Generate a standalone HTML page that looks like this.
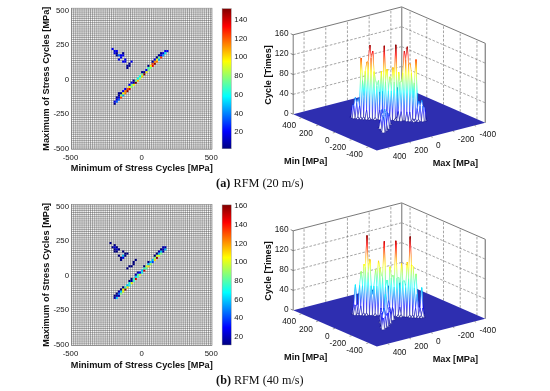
<!DOCTYPE html>
<html><head><meta charset="utf-8"><style>
html,body{margin:0;padding:0;background:#fff;}
svg{display:block;}
.tk{font-family:"Liberation Sans", Arial, sans-serif;font-size:7.8px;fill:#151515;}
.tk3{font-family:"Liberation Sans", Arial, sans-serif;font-size:8.3px;fill:#151515;}
.lb{font-family:"Liberation Sans", Arial, sans-serif;font-size:9.2px;font-weight:bold;fill:#111;}
.cap{font-family:"Liberation Serif","Times New Roman",serif;font-size:12.5px;fill:#111;}
</style></head><body>
<svg width="550" height="391" viewBox="0 0 550 391">
<defs>
<linearGradient id="jetv" x1="0" y1="1" x2="0" y2="0"><stop offset="0.0000" stop-color="#000080"/><stop offset="0.1250" stop-color="#0000ff"/><stop offset="0.3750" stop-color="#00ffff"/><stop offset="0.6250" stop-color="#ffff00"/><stop offset="0.8750" stop-color="#ff0000"/><stop offset="1.0000" stop-color="#800000"/></linearGradient>
</defs>
<rect width="550" height="391" fill="#fff"/>
<rect x="71.5" y="8.2" width="140.50" height="140.90" fill="#fff"/>
<path d="M71.50 8.20V149.10M73.61 8.20V149.10M75.72 8.20V149.10M77.82 8.20V149.10M79.93 8.20V149.10M82.04 8.20V149.10M84.15 8.20V149.10M86.26 8.20V149.10M88.36 8.20V149.10M90.47 8.20V149.10M92.58 8.20V149.10M94.69 8.20V149.10M96.80 8.20V149.10M98.90 8.20V149.10M101.01 8.20V149.10M103.12 8.20V149.10M105.23 8.20V149.10M107.34 8.20V149.10M109.44 8.20V149.10M111.55 8.20V149.10M113.66 8.20V149.10M115.77 8.20V149.10M117.88 8.20V149.10M119.98 8.20V149.10M122.09 8.20V149.10M124.20 8.20V149.10M126.31 8.20V149.10M128.42 8.20V149.10M130.52 8.20V149.10M132.63 8.20V149.10M134.74 8.20V149.10M136.85 8.20V149.10M138.96 8.20V149.10M141.06 8.20V149.10M143.17 8.20V149.10M145.28 8.20V149.10M147.39 8.20V149.10M149.50 8.20V149.10M151.60 8.20V149.10M153.71 8.20V149.10M155.82 8.20V149.10M157.93 8.20V149.10M160.04 8.20V149.10M162.14 8.20V149.10M164.25 8.20V149.10M166.36 8.20V149.10M168.47 8.20V149.10M170.58 8.20V149.10M172.68 8.20V149.10M174.79 8.20V149.10M176.90 8.20V149.10M179.01 8.20V149.10M181.12 8.20V149.10M183.22 8.20V149.10M185.33 8.20V149.10M187.44 8.20V149.10M189.55 8.20V149.10M191.66 8.20V149.10M193.76 8.20V149.10M195.87 8.20V149.10M197.98 8.20V149.10M200.09 8.20V149.10M202.20 8.20V149.10M204.30 8.20V149.10M206.41 8.20V149.10M208.52 8.20V149.10M210.63 8.20V149.10M71.50 149.10H212.00M71.50 146.99H212.00M71.50 144.88H212.00M71.50 142.78H212.00M71.50 140.67H212.00M71.50 138.56H212.00M71.50 136.45H212.00M71.50 134.34H212.00M71.50 132.24H212.00M71.50 130.13H212.00M71.50 128.02H212.00M71.50 125.91H212.00M71.50 123.80H212.00M71.50 121.70H212.00M71.50 119.59H212.00M71.50 117.48H212.00M71.50 115.37H212.00M71.50 113.26H212.00M71.50 111.16H212.00M71.50 109.05H212.00M71.50 106.94H212.00M71.50 104.83H212.00M71.50 102.72H212.00M71.50 100.62H212.00M71.50 98.51H212.00M71.50 96.40H212.00M71.50 94.29H212.00M71.50 92.18H212.00M71.50 90.08H212.00M71.50 87.97H212.00M71.50 85.86H212.00M71.50 83.75H212.00M71.50 81.64H212.00M71.50 79.54H212.00M71.50 77.43H212.00M71.50 75.32H212.00M71.50 73.21H212.00M71.50 71.10H212.00M71.50 69.00H212.00M71.50 66.89H212.00M71.50 64.78H212.00M71.50 62.67H212.00M71.50 60.56H212.00M71.50 58.46H212.00M71.50 56.35H212.00M71.50 54.24H212.00M71.50 52.13H212.00M71.50 50.02H212.00M71.50 47.92H212.00M71.50 45.81H212.00M71.50 43.70H212.00M71.50 41.59H212.00M71.50 39.48H212.00M71.50 37.38H212.00M71.50 35.27H212.00M71.50 33.16H212.00M71.50 31.05H212.00M71.50 28.94H212.00M71.50 26.84H212.00M71.50 24.73H212.00M71.50 22.62H212.00M71.50 20.51H212.00M71.50 18.40H212.00M71.50 16.30H212.00M71.50 14.19H212.00M71.50 12.08H212.00M71.50 9.97H212.00" stroke="#404040" stroke-width="0.42" fill="none"/>
<rect x="113.66" y="102.72" width="2.11" height="2.11" fill="#000091"/>
<rect x="115.77" y="100.62" width="2.11" height="2.11" fill="#0065ff"/>
<rect x="117.88" y="98.51" width="2.11" height="2.11" fill="#0065ff"/>
<rect x="119.98" y="96.40" width="2.11" height="2.11" fill="#ff4600"/>
<rect x="122.09" y="94.29" width="2.11" height="2.11" fill="#00a9ff"/>
<rect x="124.20" y="92.18" width="2.11" height="2.11" fill="#ff8400"/>
<rect x="126.31" y="90.08" width="2.11" height="2.11" fill="#9b0000"/>
<rect x="128.42" y="87.97" width="2.11" height="2.11" fill="#d80000"/>
<rect x="130.52" y="85.86" width="2.11" height="2.11" fill="#7eff81"/>
<rect x="132.63" y="83.75" width="2.11" height="2.11" fill="#ffff00"/>
<rect x="134.74" y="81.64" width="2.11" height="2.11" fill="#860000"/>
<rect x="136.85" y="79.54" width="2.11" height="2.11" fill="#ffc100"/>
<rect x="138.96" y="77.43" width="2.11" height="2.11" fill="#bbff44"/>
<rect x="141.06" y="75.32" width="2.11" height="2.11" fill="#ffdc00"/>
<rect x="143.17" y="73.21" width="2.11" height="2.11" fill="#9b0000"/>
<rect x="145.28" y="71.10" width="2.11" height="2.11" fill="#ffff00"/>
<rect x="147.39" y="69.00" width="2.11" height="2.11" fill="#7eff81"/>
<rect x="149.50" y="66.89" width="2.11" height="2.11" fill="#7eff81"/>
<rect x="151.60" y="64.78" width="2.11" height="2.11" fill="#ed0000"/>
<rect x="153.71" y="62.67" width="2.11" height="2.11" fill="#9b0000"/>
<rect x="155.82" y="60.56" width="2.11" height="2.11" fill="#ff8400"/>
<rect x="157.93" y="58.46" width="2.11" height="2.11" fill="#00a9ff"/>
<rect x="160.04" y="56.35" width="2.11" height="2.11" fill="#ff3200"/>
<rect x="162.14" y="54.24" width="2.11" height="2.11" fill="#00a9ff"/>
<rect x="164.25" y="52.13" width="2.11" height="2.11" fill="#03fffc"/>
<rect x="166.36" y="50.02" width="2.11" height="2.11" fill="#0000f0"/>
<rect x="113.66" y="100.62" width="2.11" height="2.11" fill="#0000f0"/>
<rect x="115.77" y="98.51" width="2.11" height="2.11" fill="#0000f0"/>
<rect x="117.88" y="96.40" width="2.11" height="2.11" fill="#0000f0"/>
<rect x="119.98" y="94.29" width="2.11" height="2.11" fill="#7eff81"/>
<rect x="122.09" y="92.18" width="2.11" height="2.11" fill="#ffff00"/>
<rect x="124.20" y="90.08" width="2.11" height="2.11" fill="#ff8400"/>
<rect x="126.31" y="87.97" width="2.11" height="2.11" fill="#ff4600"/>
<rect x="128.42" y="85.86" width="2.11" height="2.11" fill="#ffff00"/>
<rect x="130.52" y="83.75" width="2.11" height="2.11" fill="#7eff81"/>
<rect x="132.63" y="81.64" width="2.11" height="2.11" fill="#000091"/>
<rect x="134.74" y="79.54" width="2.11" height="2.11" fill="#7eff81"/>
<rect x="136.85" y="77.43" width="2.11" height="2.11" fill="#03fffc"/>
<rect x="138.96" y="75.32" width="2.11" height="2.11" fill="#03fffc"/>
<rect x="141.06" y="73.21" width="2.11" height="2.11" fill="#7eff81"/>
<rect x="143.17" y="71.10" width="2.11" height="2.11" fill="#000091"/>
<rect x="145.28" y="69.00" width="2.11" height="2.11" fill="#0000f0"/>
<rect x="147.39" y="66.89" width="2.11" height="2.11" fill="#3affc5"/>
<rect x="149.50" y="64.78" width="2.11" height="2.11" fill="#ffff00"/>
<rect x="151.60" y="62.67" width="2.11" height="2.11" fill="#ff4600"/>
<rect x="153.71" y="60.56" width="2.11" height="2.11" fill="#ff8400"/>
<rect x="155.82" y="58.46" width="2.11" height="2.11" fill="#ffff00"/>
<rect x="157.93" y="56.35" width="2.11" height="2.11" fill="#7eff81"/>
<rect x="160.04" y="54.24" width="2.11" height="2.11" fill="#0000f0"/>
<rect x="162.14" y="52.13" width="2.11" height="2.11" fill="#0000f0"/>
<rect x="164.25" y="50.02" width="2.11" height="2.11" fill="#0000f0"/>
<rect x="115.77" y="96.40" width="2.11" height="2.11" fill="#000091"/>
<rect x="117.88" y="94.29" width="2.11" height="2.11" fill="#000091"/>
<rect x="119.98" y="92.18" width="2.11" height="2.11" fill="#000091"/>
<rect x="122.09" y="90.08" width="2.11" height="2.11" fill="#0000f0"/>
<rect x="124.20" y="87.97" width="2.11" height="2.11" fill="#0000f0"/>
<rect x="128.42" y="83.75" width="2.11" height="2.11" fill="#0000f0"/>
<rect x="130.52" y="81.64" width="2.11" height="2.11" fill="#0000f0"/>
<rect x="132.63" y="79.54" width="2.11" height="2.11" fill="#000091"/>
<rect x="141.06" y="71.10" width="2.11" height="2.11" fill="#000091"/>
<rect x="147.39" y="64.78" width="2.11" height="2.11" fill="#000091"/>
<rect x="151.60" y="60.56" width="2.11" height="2.11" fill="#000091"/>
<rect x="153.71" y="58.46" width="2.11" height="2.11" fill="#0000f0"/>
<rect x="155.82" y="56.35" width="2.11" height="2.11" fill="#000091"/>
<rect x="157.93" y="54.24" width="2.11" height="2.11" fill="#000091"/>
<rect x="160.04" y="52.13" width="2.11" height="2.11" fill="#000091"/>
<rect x="117.88" y="92.18" width="2.11" height="2.11" fill="#000091"/>
<rect x="111.55" y="47.92" width="2.11" height="2.11" fill="#0000f0"/>
<rect x="113.66" y="50.02" width="2.11" height="2.11" fill="#0000f0"/>
<rect x="115.77" y="50.02" width="2.11" height="2.11" fill="#0000f0"/>
<rect x="113.66" y="52.13" width="2.11" height="2.11" fill="#0000f0"/>
<rect x="115.77" y="52.13" width="2.11" height="2.11" fill="#000091"/>
<rect x="115.77" y="54.24" width="2.11" height="2.11" fill="#000091"/>
<rect x="117.88" y="54.24" width="2.11" height="2.11" fill="#0065ff"/>
<rect x="119.98" y="54.24" width="2.11" height="2.11" fill="#0000f0"/>
<rect x="122.09" y="54.24" width="2.11" height="2.11" fill="#0000f0"/>
<rect x="122.09" y="52.13" width="2.11" height="2.11" fill="#000091"/>
<rect x="119.98" y="56.35" width="2.11" height="2.11" fill="#0000f0"/>
<rect x="117.88" y="58.46" width="2.11" height="2.11" fill="#0000f0"/>
<rect x="122.09" y="60.56" width="2.11" height="2.11" fill="#0000f0"/>
<rect x="124.20" y="58.46" width="2.11" height="2.11" fill="#0000f0"/>
<rect x="124.20" y="60.56" width="2.11" height="2.11" fill="#0000f0"/>
<rect x="126.31" y="64.78" width="2.11" height="2.11" fill="#000091"/>
<rect x="128.42" y="64.78" width="2.11" height="2.11" fill="#000091"/>
<rect x="128.42" y="62.67" width="2.11" height="2.11" fill="#000091"/>
<rect x="130.52" y="60.56" width="2.11" height="2.11" fill="#0000f0"/>
<rect x="126.31" y="66.89" width="2.11" height="2.11" fill="#000091"/>
<rect x="71.5" y="8.2" width="140.50" height="140.90" fill="none" stroke="#777" stroke-width="0.6"/>
<text x="69" y="12.70" text-anchor="end" class="tk">500</text>
<text x="69" y="47.23" text-anchor="end" class="tk">250</text>
<text x="69" y="81.76" text-anchor="end" class="tk">0</text>
<text x="69" y="116.29" text-anchor="end" class="tk">-250</text>
<text x="69" y="150.82" text-anchor="end" class="tk">-500</text>
<text x="70.50" y="160.20" text-anchor="middle" class="tk">-500</text>
<text x="141.75" y="160.20" text-anchor="middle" class="tk">0</text>
<text x="211.30" y="160.20" text-anchor="middle" class="tk">500</text>
<text x="141.75" y="171.30" text-anchor="middle" class="lb">Minimum of Stress Cycles [MPa]</text>
<text transform="translate(48.9 78.65) rotate(-90)" text-anchor="middle" class="lb">Maximum of Stress Cycles [MPa]</text>
<rect x="222.1" y="8.70" width="9.10" height="140.10" fill="url(#jetv)" stroke="#8a8a8a" stroke-width="0.4"/>
<text x="234.3" y="134.26" class="tk">20</text>
<text x="234.3" y="115.52" class="tk">40</text>
<text x="234.3" y="96.78" class="tk">60</text>
<text x="234.3" y="78.04" class="tk">80</text>
<text x="234.3" y="59.29" class="tk">100</text>
<text x="234.3" y="40.55" class="tk">120</text>
<text x="234.3" y="21.81" class="tk">140</text>
<rect x="71.5" y="204.39999999999998" width="140.50" height="140.90" fill="#fff"/>
<path d="M71.50 204.40V345.30M73.61 204.40V345.30M75.72 204.40V345.30M77.82 204.40V345.30M79.93 204.40V345.30M82.04 204.40V345.30M84.15 204.40V345.30M86.26 204.40V345.30M88.36 204.40V345.30M90.47 204.40V345.30M92.58 204.40V345.30M94.69 204.40V345.30M96.80 204.40V345.30M98.90 204.40V345.30M101.01 204.40V345.30M103.12 204.40V345.30M105.23 204.40V345.30M107.34 204.40V345.30M109.44 204.40V345.30M111.55 204.40V345.30M113.66 204.40V345.30M115.77 204.40V345.30M117.88 204.40V345.30M119.98 204.40V345.30M122.09 204.40V345.30M124.20 204.40V345.30M126.31 204.40V345.30M128.42 204.40V345.30M130.52 204.40V345.30M132.63 204.40V345.30M134.74 204.40V345.30M136.85 204.40V345.30M138.96 204.40V345.30M141.06 204.40V345.30M143.17 204.40V345.30M145.28 204.40V345.30M147.39 204.40V345.30M149.50 204.40V345.30M151.60 204.40V345.30M153.71 204.40V345.30M155.82 204.40V345.30M157.93 204.40V345.30M160.04 204.40V345.30M162.14 204.40V345.30M164.25 204.40V345.30M166.36 204.40V345.30M168.47 204.40V345.30M170.58 204.40V345.30M172.68 204.40V345.30M174.79 204.40V345.30M176.90 204.40V345.30M179.01 204.40V345.30M181.12 204.40V345.30M183.22 204.40V345.30M185.33 204.40V345.30M187.44 204.40V345.30M189.55 204.40V345.30M191.66 204.40V345.30M193.76 204.40V345.30M195.87 204.40V345.30M197.98 204.40V345.30M200.09 204.40V345.30M202.20 204.40V345.30M204.30 204.40V345.30M206.41 204.40V345.30M208.52 204.40V345.30M210.63 204.40V345.30M71.50 345.30H212.00M71.50 343.19H212.00M71.50 341.08H212.00M71.50 338.98H212.00M71.50 336.87H212.00M71.50 334.76H212.00M71.50 332.65H212.00M71.50 330.54H212.00M71.50 328.44H212.00M71.50 326.33H212.00M71.50 324.22H212.00M71.50 322.11H212.00M71.50 320.00H212.00M71.50 317.90H212.00M71.50 315.79H212.00M71.50 313.68H212.00M71.50 311.57H212.00M71.50 309.46H212.00M71.50 307.36H212.00M71.50 305.25H212.00M71.50 303.14H212.00M71.50 301.03H212.00M71.50 298.92H212.00M71.50 296.82H212.00M71.50 294.71H212.00M71.50 292.60H212.00M71.50 290.49H212.00M71.50 288.38H212.00M71.50 286.28H212.00M71.50 284.17H212.00M71.50 282.06H212.00M71.50 279.95H212.00M71.50 277.84H212.00M71.50 275.74H212.00M71.50 273.63H212.00M71.50 271.52H212.00M71.50 269.41H212.00M71.50 267.30H212.00M71.50 265.20H212.00M71.50 263.09H212.00M71.50 260.98H212.00M71.50 258.87H212.00M71.50 256.76H212.00M71.50 254.66H212.00M71.50 252.55H212.00M71.50 250.44H212.00M71.50 248.33H212.00M71.50 246.22H212.00M71.50 244.12H212.00M71.50 242.01H212.00M71.50 239.90H212.00M71.50 237.79H212.00M71.50 235.68H212.00M71.50 233.58H212.00M71.50 231.47H212.00M71.50 229.36H212.00M71.50 227.25H212.00M71.50 225.14H212.00M71.50 223.04H212.00M71.50 220.93H212.00M71.50 218.82H212.00M71.50 216.71H212.00M71.50 214.60H212.00M71.50 212.50H212.00M71.50 210.39H212.00M71.50 208.28H212.00M71.50 206.17H212.00" stroke="#404040" stroke-width="0.42" fill="none"/>
<rect x="115.77" y="296.82" width="2.11" height="2.11" fill="#00c3ff"/>
<rect x="117.88" y="294.71" width="2.11" height="2.11" fill="#0000b1"/>
<rect x="119.98" y="292.60" width="2.11" height="2.11" fill="#7cff83"/>
<rect x="122.09" y="290.49" width="2.11" height="2.11" fill="#e2ff1d"/>
<rect x="124.20" y="288.38" width="2.11" height="2.11" fill="#820000"/>
<rect x="126.31" y="286.28" width="2.11" height="2.11" fill="#ffe600"/>
<rect x="128.42" y="284.17" width="2.11" height="2.11" fill="#16ffe9"/>
<rect x="130.52" y="282.06" width="2.11" height="2.11" fill="#fffa00"/>
<rect x="132.63" y="279.95" width="2.11" height="2.11" fill="#3effc1"/>
<rect x="134.74" y="277.84" width="2.11" height="2.11" fill="#c60000"/>
<rect x="136.85" y="275.74" width="2.11" height="2.11" fill="#5affa5"/>
<rect x="138.96" y="273.63" width="2.11" height="2.11" fill="#ceff31"/>
<rect x="141.06" y="271.52" width="2.11" height="2.11" fill="#16ffe9"/>
<rect x="143.17" y="269.41" width="2.11" height="2.11" fill="#d40000"/>
<rect x="145.28" y="267.30" width="2.11" height="2.11" fill="#5affa5"/>
<rect x="147.39" y="265.20" width="2.11" height="2.11" fill="#ffe600"/>
<rect x="149.50" y="263.09" width="2.11" height="2.11" fill="#9eff61"/>
<rect x="151.60" y="260.98" width="2.11" height="2.11" fill="#0048ff"/>
<rect x="153.71" y="258.87" width="2.11" height="2.11" fill="#ffd800"/>
<rect x="155.82" y="256.76" width="2.11" height="2.11" fill="#900000"/>
<rect x="157.93" y="254.66" width="2.11" height="2.11" fill="#e2ff1d"/>
<rect x="160.04" y="252.55" width="2.11" height="2.11" fill="#7cff83"/>
<rect x="162.14" y="250.44" width="2.11" height="2.11" fill="#0000b1"/>
<rect x="164.25" y="248.33" width="2.11" height="2.11" fill="#00c3ff"/>
<rect x="113.66" y="296.82" width="2.11" height="2.11" fill="#0000b1"/>
<rect x="115.77" y="294.71" width="2.11" height="2.11" fill="#0000b1"/>
<rect x="117.88" y="292.60" width="2.11" height="2.11" fill="#006aff"/>
<rect x="119.98" y="290.49" width="2.11" height="2.11" fill="#00c3ff"/>
<rect x="122.09" y="288.38" width="2.11" height="2.11" fill="#fdff02"/>
<rect x="124.20" y="286.28" width="2.11" height="2.11" fill="#3effc1"/>
<rect x="126.31" y="284.17" width="2.11" height="2.11" fill="#00c3ff"/>
<rect x="128.42" y="282.06" width="2.11" height="2.11" fill="#16ffe9"/>
<rect x="130.52" y="279.95" width="2.11" height="2.11" fill="#0000b1"/>
<rect x="132.63" y="277.84" width="2.11" height="2.11" fill="#3effc1"/>
<rect x="134.74" y="275.74" width="2.11" height="2.11" fill="#00c3ff"/>
<rect x="136.85" y="273.63" width="2.11" height="2.11" fill="#3effc1"/>
<rect x="138.96" y="271.52" width="2.11" height="2.11" fill="#0004ff"/>
<rect x="141.06" y="269.41" width="2.11" height="2.11" fill="#00c3ff"/>
<rect x="143.17" y="267.30" width="2.11" height="2.11" fill="#3effc1"/>
<rect x="145.28" y="265.20" width="2.11" height="2.11" fill="#c0ff3f"/>
<rect x="147.39" y="263.09" width="2.11" height="2.11" fill="#00c3ff"/>
<rect x="149.50" y="260.98" width="2.11" height="2.11" fill="#00c3ff"/>
<rect x="151.60" y="258.87" width="2.11" height="2.11" fill="#00c3ff"/>
<rect x="153.71" y="256.76" width="2.11" height="2.11" fill="#7cff83"/>
<rect x="155.82" y="254.66" width="2.11" height="2.11" fill="#c0ff3f"/>
<rect x="157.93" y="252.55" width="2.11" height="2.11" fill="#00c3ff"/>
<rect x="160.04" y="250.44" width="2.11" height="2.11" fill="#00c3ff"/>
<rect x="162.14" y="248.33" width="2.11" height="2.11" fill="#0000b1"/>
<rect x="164.25" y="246.22" width="2.11" height="2.11" fill="#0000b1"/>
<rect x="113.66" y="294.71" width="2.11" height="2.11" fill="#000080"/>
<rect x="115.77" y="292.60" width="2.11" height="2.11" fill="#000080"/>
<rect x="117.88" y="290.49" width="2.11" height="2.11" fill="#0000b1"/>
<rect x="119.98" y="288.38" width="2.11" height="2.11" fill="#000080"/>
<rect x="122.09" y="286.28" width="2.11" height="2.11" fill="#000080"/>
<rect x="128.42" y="279.95" width="2.11" height="2.11" fill="#000080"/>
<rect x="130.52" y="277.84" width="2.11" height="2.11" fill="#000080"/>
<rect x="134.74" y="273.63" width="2.11" height="2.11" fill="#0000b1"/>
<rect x="136.85" y="271.52" width="2.11" height="2.11" fill="#0000b1"/>
<rect x="143.17" y="265.20" width="2.11" height="2.11" fill="#000080"/>
<rect x="147.39" y="260.98" width="2.11" height="2.11" fill="#000080"/>
<rect x="153.71" y="254.66" width="2.11" height="2.11" fill="#000080"/>
<rect x="155.82" y="252.55" width="2.11" height="2.11" fill="#000080"/>
<rect x="157.93" y="250.44" width="2.11" height="2.11" fill="#0000b1"/>
<rect x="160.04" y="248.33" width="2.11" height="2.11" fill="#000080"/>
<rect x="162.14" y="246.22" width="2.11" height="2.11" fill="#0000b1"/>
<rect x="109.44" y="242.01" width="2.11" height="2.11" fill="#000080"/>
<rect x="113.66" y="244.12" width="2.11" height="2.11" fill="#000080"/>
<rect x="111.55" y="246.22" width="2.11" height="2.11" fill="#000080"/>
<rect x="113.66" y="246.22" width="2.11" height="2.11" fill="#0000e1"/>
<rect x="115.77" y="246.22" width="2.11" height="2.11" fill="#000080"/>
<rect x="115.77" y="248.33" width="2.11" height="2.11" fill="#0000e1"/>
<rect x="113.66" y="248.33" width="2.11" height="2.11" fill="#000080"/>
<rect x="117.88" y="248.33" width="2.11" height="2.11" fill="#000080"/>
<rect x="113.66" y="250.44" width="2.11" height="2.11" fill="#000080"/>
<rect x="115.77" y="250.44" width="2.11" height="2.11" fill="#000080"/>
<rect x="122.09" y="250.44" width="2.11" height="2.11" fill="#000080"/>
<rect x="124.20" y="252.55" width="2.11" height="2.11" fill="#000080"/>
<rect x="126.31" y="252.55" width="2.11" height="2.11" fill="#000080"/>
<rect x="117.88" y="254.66" width="2.11" height="2.11" fill="#000080"/>
<rect x="122.09" y="254.66" width="2.11" height="2.11" fill="#00c3ff"/>
<rect x="124.20" y="254.66" width="2.11" height="2.11" fill="#000080"/>
<rect x="119.98" y="256.76" width="2.11" height="2.11" fill="#000080"/>
<rect x="122.09" y="256.76" width="2.11" height="2.11" fill="#0000e1"/>
<rect x="119.98" y="258.87" width="2.11" height="2.11" fill="#000080"/>
<rect x="134.74" y="258.87" width="2.11" height="2.11" fill="#000080"/>
<rect x="132.63" y="260.98" width="2.11" height="2.11" fill="#000080"/>
<rect x="132.63" y="263.09" width="2.11" height="2.11" fill="#000080"/>
<rect x="128.42" y="265.20" width="2.11" height="2.11" fill="#000080"/>
<rect x="130.52" y="265.20" width="2.11" height="2.11" fill="#000080"/>
<rect x="126.31" y="267.30" width="2.11" height="2.11" fill="#000080"/>
<rect x="71.5" y="204.39999999999998" width="140.50" height="140.90" fill="none" stroke="#777" stroke-width="0.6"/>
<text x="69" y="208.90" text-anchor="end" class="tk">500</text>
<text x="69" y="243.43" text-anchor="end" class="tk">250</text>
<text x="69" y="277.96" text-anchor="end" class="tk">0</text>
<text x="69" y="312.49" text-anchor="end" class="tk">-250</text>
<text x="69" y="347.02" text-anchor="end" class="tk">-500</text>
<text x="70.50" y="356.40" text-anchor="middle" class="tk">-500</text>
<text x="141.75" y="356.40" text-anchor="middle" class="tk">0</text>
<text x="211.30" y="356.40" text-anchor="middle" class="tk">500</text>
<text x="141.75" y="367.50" text-anchor="middle" class="lb">Minimum of Stress Cycles [MPa]</text>
<text transform="translate(48.9 274.85) rotate(-90)" text-anchor="middle" class="lb">Maximum of Stress Cycles [MPa]</text>
<rect x="222.1" y="204.90" width="9.10" height="140.10" fill="url(#jetv)" stroke="#8a8a8a" stroke-width="0.4"/>
<text x="234.3" y="339.10" class="tk">20</text>
<text x="234.3" y="320.38" class="tk">40</text>
<text x="234.3" y="301.66" class="tk">60</text>
<text x="234.3" y="282.94" class="tk">80</text>
<text x="234.3" y="264.23" class="tk">100</text>
<text x="234.3" y="245.51" class="tk">120</text>
<text x="234.3" y="226.79" class="tk">140</text>
<text x="234.3" y="208.07" class="tk">160</text>
<line x1="304.05" y1="111.41" x2="304.05" y2="32.01" stroke="#6a6a6a" stroke-width="0.6" stroke-dasharray="2.6 1.6"/>
<line x1="410.06" y1="89.94" x2="410.06" y2="10.54" stroke="#6a6a6a" stroke-width="0.6" stroke-dasharray="2.6 1.6"/>
<line x1="325.75" y1="105.83" x2="325.75" y2="26.43" stroke="#6a6a6a" stroke-width="0.6" stroke-dasharray="2.6 1.6"/>
<line x1="426.78" y1="97.22" x2="426.78" y2="17.82" stroke="#6a6a6a" stroke-width="0.6" stroke-dasharray="2.6 1.6"/>
<line x1="347.45" y1="100.25" x2="347.45" y2="20.85" stroke="#6a6a6a" stroke-width="0.6" stroke-dasharray="2.6 1.6"/>
<line x1="443.50" y1="104.50" x2="443.50" y2="25.10" stroke="#6a6a6a" stroke-width="0.6" stroke-dasharray="2.6 1.6"/>
<line x1="369.15" y1="94.67" x2="369.15" y2="15.27" stroke="#6a6a6a" stroke-width="0.6" stroke-dasharray="2.6 1.6"/>
<line x1="460.22" y1="111.78" x2="460.22" y2="32.38" stroke="#6a6a6a" stroke-width="0.6" stroke-dasharray="2.6 1.6"/>
<line x1="390.85" y1="89.09" x2="390.85" y2="9.69" stroke="#6a6a6a" stroke-width="0.6" stroke-dasharray="2.6 1.6"/>
<line x1="476.94" y1="119.06" x2="476.94" y2="39.66" stroke="#6a6a6a" stroke-width="0.6" stroke-dasharray="2.6 1.6"/>
<line x1="293.20" y1="94.35" x2="401.70" y2="66.45" stroke="#6a6a6a" stroke-width="0.6" stroke-dasharray="2.6 1.6"/>
<line x1="401.70" y1="66.45" x2="485.30" y2="102.85" stroke="#6a6a6a" stroke-width="0.6" stroke-dasharray="2.6 1.6"/>
<line x1="293.20" y1="74.50" x2="401.70" y2="46.60" stroke="#6a6a6a" stroke-width="0.6" stroke-dasharray="2.6 1.6"/>
<line x1="401.70" y1="46.60" x2="485.30" y2="83.00" stroke="#6a6a6a" stroke-width="0.6" stroke-dasharray="2.6 1.6"/>
<line x1="293.20" y1="54.65" x2="401.70" y2="26.75" stroke="#6a6a6a" stroke-width="0.6" stroke-dasharray="2.6 1.6"/>
<line x1="401.70" y1="26.75" x2="485.30" y2="63.15" stroke="#6a6a6a" stroke-width="0.6" stroke-dasharray="2.6 1.6"/>
<line x1="293.20" y1="34.80" x2="401.70" y2="6.90" stroke="#555" stroke-width="0.8"/>
<line x1="401.70" y1="6.90" x2="485.30" y2="43.30" stroke="#555" stroke-width="0.8"/>
<line x1="401.70" y1="86.30" x2="401.70" y2="6.90" stroke="#999" stroke-width="1.4"/>
<line x1="485.30" y1="122.70" x2="485.30" y2="43.30" stroke="#909090" stroke-width="1.4"/>
<line x1="293.20" y1="114.20" x2="293.20" y2="34.80" stroke="#555" stroke-width="0.8"/>
<polygon points="293.20,114.20 376.80,150.60 485.30,122.70 401.70,86.30" fill="#2e2eb0"/>
<defs><linearGradient id="gaa116" gradientUnits="userSpaceOnUse" x1="0" y1="116" x2="0" y2="41.07"><stop offset="0.0000" stop-color="#000080"/><stop offset="0.1250" stop-color="#0000ff"/><stop offset="0.3750" stop-color="#00ffff"/><stop offset="0.6250" stop-color="#ffff00"/><stop offset="0.8750" stop-color="#ff0000"/><stop offset="1.0000" stop-color="#800000"/></linearGradient><linearGradient id="gaa118" gradientUnits="userSpaceOnUse" x1="0" y1="118" x2="0" y2="43.07"><stop offset="0.0000" stop-color="#000080"/><stop offset="0.1250" stop-color="#0000ff"/><stop offset="0.3750" stop-color="#00ffff"/><stop offset="0.6250" stop-color="#ffff00"/><stop offset="0.8750" stop-color="#ff0000"/><stop offset="1.0000" stop-color="#800000"/></linearGradient><linearGradient id="gaa120" gradientUnits="userSpaceOnUse" x1="0" y1="120" x2="0" y2="45.07"><stop offset="0.0000" stop-color="#000080"/><stop offset="0.1250" stop-color="#0000ff"/><stop offset="0.3750" stop-color="#00ffff"/><stop offset="0.6250" stop-color="#ffff00"/><stop offset="0.8750" stop-color="#ff0000"/><stop offset="1.0000" stop-color="#800000"/></linearGradient><linearGradient id="gaa122" gradientUnits="userSpaceOnUse" x1="0" y1="122" x2="0" y2="47.07"><stop offset="0.0000" stop-color="#000080"/><stop offset="0.1250" stop-color="#0000ff"/><stop offset="0.3750" stop-color="#00ffff"/><stop offset="0.6250" stop-color="#ffff00"/><stop offset="0.8750" stop-color="#ff0000"/><stop offset="1.0000" stop-color="#800000"/></linearGradient></defs>
<g fill="#fff" stroke-width="0.5" stroke-linejoin="round"><g stroke="url(#gaa116)"><path d="M354.2 116.9L352.9 116.4L351.3 116.8L352.6 104.9Z"/><path d="M357.1 117.0L355.8 116.5L354.2 116.9L355.4 97.6Z"/></g><g stroke="url(#gaa118)"><path d="M360.0 117.2L358.7 116.6L357.1 117.0L358.3 98.7Z"/><path d="M362.8 117.3L361.6 116.7L360.0 117.2L361.2 58.1Z"/><path d="M352.6 104.9L351.3 116.8L349.7 117.2L350.9 117.7Z"/><path d="M365.7 117.4L364.5 116.9L362.8 117.3L364.1 95.5Z"/><path d="M355.4 97.6L354.2 116.9L352.6 104.9L353.8 105.5Z"/><path d="M368.6 117.5L367.3 117.0L365.7 117.4L367.0 61.9Z"/><path d="M358.3 98.7L357.1 117.0L355.4 97.6L356.7 103.1Z"/><path d="M371.5 117.7L370.2 117.1L368.6 117.5L369.9 45.1Z"/><path d="M361.2 58.1L360.0 117.2L358.3 98.7L359.6 105.7Z"/><path d="M374.4 117.8L373.1 117.2L371.5 117.7L372.7 51.2Z"/><path d="M364.1 95.5L362.8 117.3L361.2 58.1L362.5 80.5Z"/><path d="M377.2 117.9L376.0 117.4L374.4 117.8L375.6 80.6Z"/><path d="M353.8 105.5L352.6 104.9L350.9 117.7L352.2 118.3Z"/><path d="M367.0 61.9L365.7 117.4L364.1 95.5L365.3 71.2Z"/><path d="M380.1 118.0L378.9 117.5L377.2 117.9L378.5 80.7Z"/><path d="M356.7 103.1L355.4 97.6L353.8 105.5L355.1 118.4Z"/><path d="M369.9 45.1L368.6 117.5L367.0 61.9L368.2 62.4Z"/><path d="M383.0 118.2L381.8 117.6L380.1 118.0L381.4 71.4Z"/><path d="M359.6 105.7L358.3 98.7L356.7 103.1L358.0 116.6Z"/><path d="M372.7 51.2L371.5 117.7L369.9 45.1L371.1 58.1Z"/><path d="M385.9 118.3L384.6 117.8L383.0 118.2L384.3 45.8Z"/><path d="M362.5 80.5L361.2 58.1L359.6 105.7L360.8 116.7Z"/><path d="M375.6 80.6L374.4 117.8L372.7 51.2L374.0 71.6Z"/><path d="M388.8 118.4L387.5 117.9L385.9 118.3L387.1 69.2Z"/><path d="M365.3 71.2L364.1 95.5L362.5 80.5L363.7 116.8Z"/><path d="M378.5 80.7L377.2 117.9L375.6 80.6L376.9 86.1Z"/><path d="M355.1 118.4L353.8 105.5L352.2 118.3L353.4 118.8Z"/><path d="M391.7 118.6L390.4 118.0L388.8 118.4L390.0 76.8Z"/><path d="M368.2 62.4L367.0 61.9L365.3 71.2L366.6 110.0Z"/><path d="M381.4 71.4L380.1 118.0L378.5 80.7L379.8 110.1Z"/><path d="M358.0 116.6L356.7 103.1L355.1 118.4L356.3 119.0Z"/><path d="M394.5 118.7L393.3 118.1L391.7 118.6L392.9 67.5Z"/><path d="M371.1 58.1L369.9 45.1L368.2 62.4L369.5 117.1Z"/><path d="M384.3 45.8L383.0 118.2L381.4 71.4L382.6 117.2Z"/><path d="M360.8 116.7L359.6 105.7L358.0 116.6L359.2 119.1Z"/><path d="M397.4 118.8L396.2 118.3L394.5 118.7L395.8 44.8Z"/><path d="M374.0 71.6L372.7 51.2L371.1 58.1L372.4 119.2Z"/><path d="M387.1 69.2L385.9 118.3L384.3 45.8L385.5 81.6Z"/><path d="M363.7 116.8L362.5 80.5L360.8 116.7L362.1 119.2Z"/><path d="M400.3 118.9L399.0 118.4L397.4 118.8L398.7 72.2Z"/><path d="M376.9 86.1L375.6 80.6L374.0 71.6L375.2 117.3Z"/><path d="M390.0 76.8L388.8 118.4L387.1 69.2L388.4 90.6Z"/><path d="M366.6 110.0L365.3 71.2L363.7 116.8L365.0 119.3Z"/></g><g stroke="url(#gaa120)"><path d="M403.2 119.1L401.9 118.5L400.3 118.9L401.5 81.8Z"/></g><g stroke="url(#gaa118)"><path d="M379.8 110.1L378.5 80.7L376.9 86.1L378.1 119.4Z"/></g><g stroke="url(#gaa120)"><path d="M392.9 67.5L391.7 118.6L390.0 76.8L391.3 90.7Z"/></g><g stroke="url(#gaa118)"><path d="M369.5 117.1L368.2 62.4L366.6 110.0L367.9 119.5Z"/></g><g stroke="url(#gaa120)"><path d="M406.1 119.2L404.8 118.6L403.2 119.1L404.4 51.1Z"/><path d="M382.6 117.2L381.4 71.4L379.8 110.1L381.0 119.6Z"/><path d="M359.2 119.1L358.0 116.6L356.3 119.0L357.6 119.5Z"/><path d="M395.8 44.8L394.5 118.7L392.9 67.5L394.2 81.9Z"/><path d="M372.4 119.2L371.1 58.1L369.5 117.1L370.7 119.6Z"/><path d="M408.9 119.3L407.7 118.8L406.1 119.2L407.3 46.8Z"/><path d="M385.5 81.6L384.3 45.8L382.6 117.2L383.9 117.7Z"/><path d="M362.1 119.2L360.8 116.7L359.2 119.1L360.5 119.6Z"/><path d="M398.7 72.2L397.4 118.8L395.8 44.8L397.0 117.8Z"/><path d="M375.2 117.3L374.0 71.6L372.4 119.2L373.6 119.7Z"/><path d="M411.8 119.4L410.6 118.9L408.9 119.3L410.2 63.8Z"/><path d="M388.4 90.6L387.1 69.2L385.5 81.6L386.8 119.8Z"/><path d="M365.0 119.3L363.7 116.8L362.1 119.2L363.3 119.8Z"/><path d="M401.5 81.8L400.3 118.9L398.7 72.2L399.9 82.2Z"/><path d="M378.1 119.4L376.9 86.1L375.2 117.3L376.5 119.8Z"/><path d="M414.7 119.6L413.4 119.0L411.8 119.4L413.1 97.7Z"/><path d="M391.3 90.7L390.0 76.8L388.4 90.6L389.7 119.9Z"/><path d="M367.9 119.5L366.6 110.0L365.0 119.3L366.2 119.9Z"/><path d="M404.4 51.1L403.2 119.1L401.5 81.8L402.8 72.9Z"/><path d="M381.0 119.6L379.8 110.1L378.1 119.4L379.4 120.0Z"/><path d="M417.6 119.7L416.3 119.2L414.7 119.6L416.0 59.6Z"/><path d="M394.2 81.9L392.9 67.5L391.3 90.7L392.5 120.1Z"/><path d="M370.7 119.6L369.5 117.1L367.9 119.5L369.1 120.0Z"/><path d="M407.3 46.8L406.1 119.2L404.4 51.1L405.7 59.6Z"/><path d="M383.9 117.7L382.6 117.2L381.0 119.6L382.3 120.1Z"/><path d="M420.5 119.8L419.2 119.3L417.6 119.7L418.8 101.4Z"/><path d="M397.0 117.8L395.8 44.8L394.2 81.9L395.4 118.2Z"/><path d="M410.2 63.8L408.9 119.3L407.3 46.8L408.6 64.2Z"/><path d="M386.8 119.8L385.5 81.6L383.9 117.7L385.1 120.2Z"/><path d="M423.3 120.0L422.1 119.4L420.5 119.8L421.7 100.5Z"/><path d="M399.9 82.2L398.7 72.2L397.0 117.8L398.3 111.4Z"/><path d="M376.5 119.8L375.2 117.3L373.6 119.7L374.9 120.3Z"/><path d="M413.1 97.7L411.8 119.4L410.2 63.8L411.4 73.3Z"/><path d="M389.7 119.9L388.4 90.6L386.8 119.8L388.0 120.4Z"/><path d="M426.2 120.1L425.0 119.5L423.3 120.0L424.6 108.1Z"/><path d="M402.8 72.9L401.5 81.8L399.9 82.2L401.2 111.5Z"/><path d="M416.0 59.6L414.7 119.6L413.1 97.7L414.3 82.8Z"/><path d="M392.5 120.1L391.3 90.7L389.7 119.9L390.9 120.5Z"/><path d="M405.7 59.6L404.4 51.1L402.8 72.9L404.1 120.6Z"/><path d="M418.8 101.4L417.6 119.7L416.0 59.6L417.2 108.3Z"/><path d="M395.4 118.2L394.2 81.9L392.5 120.1L393.8 120.6Z"/><path d="M408.6 64.2L407.3 46.8L405.7 59.6L406.9 111.8Z"/><path d="M385.1 120.2L383.9 117.7L382.3 120.1L383.5 120.6Z"/><path d="M421.7 100.5L420.5 119.8L418.8 101.4L420.1 105.9Z"/><path d="M398.3 111.4L397.0 117.8L395.4 118.2L396.7 120.7Z"/><path d="M411.4 73.3L410.2 63.8L408.6 64.2L409.8 111.9Z"/><path d="M424.6 108.1L423.3 120.0L421.7 100.5L423.0 106.0Z"/><path d="M401.2 111.5L399.9 82.2L398.3 111.4L399.5 120.9Z"/><path d="M414.3 82.8L413.1 97.7L411.4 73.3L412.7 119.0Z"/><path d="M427.5 120.6L426.2 120.1L424.6 108.1L425.9 121.1Z"/><path d="M404.1 120.6L402.8 72.9L401.2 111.5L402.4 121.0Z"/><path d="M417.2 108.3L416.0 59.6L414.3 82.8L415.6 119.1Z"/><path d="M406.9 111.8L405.7 59.6L404.1 120.6L405.3 121.1Z"/><path d="M420.1 105.9L418.8 101.4L417.2 108.3L418.5 119.2Z"/><path d="M396.7 120.7L395.4 118.2L393.8 120.6L395.0 121.2Z"/><path d="M409.8 111.9L408.6 64.2L406.9 111.8L408.2 121.3Z"/><path d="M423.0 106.0L421.7 100.5L420.1 105.9L421.3 121.3Z"/><path d="M399.5 120.9L398.3 111.4L396.7 120.7L397.9 121.3Z"/><path d="M412.7 119.0L411.4 73.3L409.8 111.9L411.1 121.4Z"/><path d="M425.9 121.1L424.6 108.1L423.0 106.0L424.2 121.5Z"/><path d="M402.4 121.0L401.2 111.5L399.5 120.9L400.8 121.4Z"/></g><g stroke="url(#gaa122)"><path d="M415.6 119.1L414.3 82.8L412.7 119.0L414.0 119.5Z"/><path d="M418.5 119.2L417.2 108.3L415.6 119.1L416.8 121.6Z"/><path d="M408.2 121.3L406.9 111.8L405.3 121.1L406.6 121.7Z"/><path d="M421.3 121.3L420.1 105.9L418.5 119.2L419.7 121.8Z"/><path d="M411.1 121.4L409.8 111.9L408.2 121.3L409.4 121.8Z"/><path d="M424.2 121.5L423.0 106.0L421.3 121.3L422.6 121.9Z"/><path d="M414.0 119.5L412.7 119.0L411.1 121.4L412.3 121.9Z"/><path d="M416.8 121.6L415.6 119.1L414.0 119.5L415.2 122.1Z"/><path d="M419.7 121.8L418.5 119.2L416.8 121.6L418.1 122.2Z"/><path d="M415.2 122.1L414.0 119.5L412.3 121.9L413.6 122.5Z"/></g></g>
<defs><linearGradient id="gab124" gradientUnits="userSpaceOnUse" x1="0" y1="124" x2="0" y2="49.07"><stop offset="0.0000" stop-color="#000080"/><stop offset="0.1250" stop-color="#0000ff"/><stop offset="0.3750" stop-color="#00ffff"/><stop offset="0.6250" stop-color="#ffff00"/><stop offset="0.8750" stop-color="#ff0000"/><stop offset="1.0000" stop-color="#800000"/></linearGradient><linearGradient id="gab126" gradientUnits="userSpaceOnUse" x1="0" y1="126" x2="0" y2="51.07"><stop offset="0.0000" stop-color="#000080"/><stop offset="0.1250" stop-color="#0000ff"/><stop offset="0.3750" stop-color="#00ffff"/><stop offset="0.6250" stop-color="#ffff00"/><stop offset="0.8750" stop-color="#ff0000"/><stop offset="1.0000" stop-color="#800000"/></linearGradient><linearGradient id="gab128" gradientUnits="userSpaceOnUse" x1="0" y1="128" x2="0" y2="53.07"><stop offset="0.0000" stop-color="#000080"/><stop offset="0.1250" stop-color="#0000ff"/><stop offset="0.3750" stop-color="#00ffff"/><stop offset="0.6250" stop-color="#ffff00"/><stop offset="0.8750" stop-color="#ff0000"/><stop offset="1.0000" stop-color="#800000"/></linearGradient><linearGradient id="gab130" gradientUnits="userSpaceOnUse" x1="0" y1="130" x2="0" y2="55.07"><stop offset="0.0000" stop-color="#000080"/><stop offset="0.1250" stop-color="#0000ff"/><stop offset="0.3750" stop-color="#00ffff"/><stop offset="0.6250" stop-color="#ffff00"/><stop offset="0.8750" stop-color="#ff0000"/><stop offset="1.0000" stop-color="#800000"/></linearGradient><linearGradient id="gab132" gradientUnits="userSpaceOnUse" x1="0" y1="132" x2="0" y2="57.07"><stop offset="0.0000" stop-color="#000080"/><stop offset="0.1250" stop-color="#0000ff"/><stop offset="0.3750" stop-color="#00ffff"/><stop offset="0.6250" stop-color="#ffff00"/><stop offset="0.8750" stop-color="#ff0000"/><stop offset="1.0000" stop-color="#800000"/></linearGradient></defs>
<g fill="#fff" stroke-width="0.35" stroke-linejoin="round"><g stroke="url(#gab124)"><path d="M388.2 123.8L386.9 123.3L385.3 123.7L386.5 115.3Z"/><path d="M391.0 123.9L389.8 123.4L388.2 123.8L389.4 115.4Z"/><path d="M383.6 124.1L382.4 123.5L380.8 124.0L382.0 109.6Z"/><path d="M386.5 115.3L385.3 123.7L383.6 124.1L384.9 115.7Z"/><path d="M389.4 115.4L388.2 123.8L386.5 115.3L387.8 115.8Z"/><path d="M392.3 124.5L391.0 123.9L389.4 115.4L390.7 124.9Z"/><path d="M382.0 109.6L380.8 124.0L379.1 124.4L380.4 124.9Z"/><path d="M384.9 115.7L383.6 124.1L382.0 109.6L383.3 125.1Z"/><path d="M387.8 115.8L386.5 115.3L384.9 115.7L386.2 125.2Z"/><path d="M390.7 124.9L389.4 115.4L387.8 115.8L389.0 125.3Z"/><path d="M383.3 125.1L382.0 109.6L380.4 124.9L381.6 125.5Z"/></g><g stroke="url(#gab126)"><path d="M386.2 125.2L384.9 115.7L383.3 125.1L384.5 125.6Z"/><path d="M389.0 125.3L387.8 115.8L386.2 125.2L387.4 125.7Z"/><path d="M387.4 125.7L386.2 125.2L384.5 125.6L385.8 111.3Z"/><path d="M385.8 111.3L384.5 125.6L382.9 126.0L384.2 111.7Z"/><path d="M388.7 126.3L387.4 125.7L385.8 111.3L387.0 111.8Z"/><path d="M384.2 111.7L382.9 126.0L381.3 126.4L382.5 127.0Z"/><path d="M387.0 111.8L385.8 111.3L384.2 111.7L385.4 127.1Z"/><path d="M389.9 126.8L388.7 126.3L387.0 111.8L388.3 127.2Z"/></g><g stroke="url(#gab128)"><path d="M385.4 127.1L384.2 111.7L382.5 127.0L383.8 127.5Z"/><path d="M388.3 127.2L387.0 111.8L385.4 127.1L386.7 127.7Z"/><path d="M383.8 127.5L382.5 127.0L380.9 127.4L382.2 113.1Z"/><path d="M386.7 127.7L385.4 127.1L383.8 127.5L385.0 113.2Z"/><path d="M389.5 127.8L388.3 127.2L386.7 127.7L387.9 113.3Z"/><path d="M382.2 113.1L380.9 127.4L379.3 127.8L380.5 119.4Z"/><path d="M385.0 113.2L383.8 127.5L382.2 113.1L383.4 113.6Z"/><path d="M387.9 113.3L386.7 127.7L385.0 113.2L386.3 128.6Z"/><path d="M390.8 128.3L389.5 127.8L387.9 113.3L389.2 128.7Z"/><path d="M380.5 119.4L379.3 127.8L377.6 128.2L378.9 128.8Z"/><path d="M383.4 113.6L382.2 113.1L380.5 119.4L381.8 128.9Z"/><path d="M386.3 128.6L385.0 113.2L383.4 113.6L384.7 109.2Z"/><path d="M389.2 128.7L387.9 113.3L386.3 128.6L387.5 129.2Z"/><path d="M381.8 128.9L380.5 119.4L378.9 128.8L380.2 129.3Z"/><path d="M384.7 109.2L383.4 113.6L381.8 128.9L383.0 129.5Z"/></g><g stroke="url(#gab130)"><path d="M387.5 129.2L386.3 128.6L384.7 109.2L385.9 120.7Z"/><path d="M385.9 120.7L384.7 109.2L383.0 129.5L384.3 121.1Z"/><path d="M388.8 129.7L387.5 129.2L385.9 120.7L387.2 130.1Z"/><path d="M384.3 121.1L383.0 129.5L381.4 129.9L382.7 115.5Z"/><path d="M387.2 130.1L385.9 120.7L384.3 121.1L385.5 115.7Z"/><path d="M382.7 115.5L381.4 129.9L379.8 130.3L381.0 130.8Z"/><path d="M385.5 115.7L384.3 121.1L382.7 115.5L383.9 116.1Z"/><path d="M388.4 130.7L387.2 130.1L385.5 115.7L386.8 131.1Z"/><path d="M383.9 116.1L382.7 115.5L381.0 130.8L382.3 131.4Z"/></g><g stroke="url(#gab132)"><path d="M386.8 131.1L385.5 115.7L383.9 116.1L385.2 131.5Z"/><path d="M385.2 131.5L383.9 116.1L382.3 131.4L383.5 117.0Z"/><path d="M383.5 117.0L382.3 131.4L380.7 131.8L381.9 132.4Z"/><path d="M386.4 132.1L385.2 131.5L383.5 117.0L384.8 132.5Z"/><path d="M384.8 132.5L383.5 117.0L381.9 132.4L383.2 132.9Z"/></g></g>
<line x1="290.69" y1="113.11" x2="293.20" y2="114.20" stroke="#555" stroke-width="0.7"/>
<text x="288.60" y="115.70" text-anchor="end" class="tk3">0</text>
<line x1="290.69" y1="93.26" x2="293.20" y2="94.35" stroke="#555" stroke-width="0.7"/>
<text x="288.60" y="95.85" text-anchor="end" class="tk3">40</text>
<line x1="290.69" y1="73.41" x2="293.20" y2="74.50" stroke="#555" stroke-width="0.7"/>
<text x="288.60" y="76.00" text-anchor="end" class="tk3">80</text>
<line x1="290.69" y1="53.56" x2="293.20" y2="54.65" stroke="#555" stroke-width="0.7"/>
<text x="288.60" y="56.15" text-anchor="end" class="tk3">120</text>
<line x1="290.69" y1="33.71" x2="293.20" y2="34.80" stroke="#555" stroke-width="0.7"/>
<text x="288.60" y="36.30" text-anchor="end" class="tk3">160</text>
<text x="296.06" y="128.34" text-anchor="end" class="tk3">400</text>
<line x1="301.56" y1="117.84" x2="299.39" y2="118.40" stroke="#666" stroke-width="0.6"/>
<text x="312.78" y="135.62" text-anchor="end" class="tk3">200</text>
<line x1="318.28" y1="125.12" x2="316.11" y2="125.68" stroke="#666" stroke-width="0.6"/>
<text x="329.50" y="142.90" text-anchor="end" class="tk3">0</text>
<line x1="335.00" y1="132.40" x2="332.83" y2="132.96" stroke="#666" stroke-width="0.6"/>
<text x="346.22" y="150.18" text-anchor="end" class="tk3">-200</text>
<line x1="351.72" y1="139.68" x2="349.55" y2="140.24" stroke="#666" stroke-width="0.6"/>
<text x="362.94" y="157.46" text-anchor="end" class="tk3">-400</text>
<line x1="368.44" y1="146.96" x2="366.27" y2="147.52" stroke="#666" stroke-width="0.6"/>
<text x="392.65" y="158.91" class="tk3">400</text>
<line x1="387.65" y1="147.81" x2="389.32" y2="148.54" stroke="#666" stroke-width="0.6"/>
<text x="414.35" y="153.33" class="tk3">200</text>
<line x1="409.35" y1="142.23" x2="411.02" y2="142.96" stroke="#666" stroke-width="0.6"/>
<text x="436.05" y="147.75" class="tk3">0</text>
<line x1="431.05" y1="136.65" x2="432.72" y2="137.38" stroke="#666" stroke-width="0.6"/>
<text x="457.75" y="142.17" class="tk3">-200</text>
<line x1="452.75" y1="131.07" x2="454.42" y2="131.80" stroke="#666" stroke-width="0.6"/>
<text x="479.45" y="136.59" class="tk3">-400</text>
<line x1="474.45" y1="125.49" x2="476.12" y2="126.22" stroke="#666" stroke-width="0.6"/>
<text x="284" y="163.60" class="lb">Min [MPa]</text>
<text x="432.7" y="165.90" class="lb">Max [MPa]</text>
<text transform="translate(271.2 74.90) rotate(-90)" text-anchor="middle" class="lb">Cycle [Times]</text>
<line x1="304.05" y1="307.41" x2="304.05" y2="228.01" stroke="#6a6a6a" stroke-width="0.6" stroke-dasharray="2.6 1.6"/>
<line x1="410.06" y1="285.94" x2="410.06" y2="206.54" stroke="#6a6a6a" stroke-width="0.6" stroke-dasharray="2.6 1.6"/>
<line x1="325.75" y1="301.83" x2="325.75" y2="222.43" stroke="#6a6a6a" stroke-width="0.6" stroke-dasharray="2.6 1.6"/>
<line x1="426.78" y1="293.22" x2="426.78" y2="213.82" stroke="#6a6a6a" stroke-width="0.6" stroke-dasharray="2.6 1.6"/>
<line x1="347.45" y1="296.25" x2="347.45" y2="216.85" stroke="#6a6a6a" stroke-width="0.6" stroke-dasharray="2.6 1.6"/>
<line x1="443.50" y1="300.50" x2="443.50" y2="221.10" stroke="#6a6a6a" stroke-width="0.6" stroke-dasharray="2.6 1.6"/>
<line x1="369.15" y1="290.67" x2="369.15" y2="211.27" stroke="#6a6a6a" stroke-width="0.6" stroke-dasharray="2.6 1.6"/>
<line x1="460.22" y1="307.78" x2="460.22" y2="228.38" stroke="#6a6a6a" stroke-width="0.6" stroke-dasharray="2.6 1.6"/>
<line x1="390.85" y1="285.09" x2="390.85" y2="205.69" stroke="#6a6a6a" stroke-width="0.6" stroke-dasharray="2.6 1.6"/>
<line x1="476.94" y1="315.06" x2="476.94" y2="235.66" stroke="#6a6a6a" stroke-width="0.6" stroke-dasharray="2.6 1.6"/>
<line x1="293.20" y1="290.35" x2="401.70" y2="262.45" stroke="#6a6a6a" stroke-width="0.6" stroke-dasharray="2.6 1.6"/>
<line x1="401.70" y1="262.45" x2="485.30" y2="298.85" stroke="#6a6a6a" stroke-width="0.6" stroke-dasharray="2.6 1.6"/>
<line x1="293.20" y1="270.50" x2="401.70" y2="242.60" stroke="#6a6a6a" stroke-width="0.6" stroke-dasharray="2.6 1.6"/>
<line x1="401.70" y1="242.60" x2="485.30" y2="279.00" stroke="#6a6a6a" stroke-width="0.6" stroke-dasharray="2.6 1.6"/>
<line x1="293.20" y1="250.65" x2="401.70" y2="222.75" stroke="#6a6a6a" stroke-width="0.6" stroke-dasharray="2.6 1.6"/>
<line x1="401.70" y1="222.75" x2="485.30" y2="259.15" stroke="#6a6a6a" stroke-width="0.6" stroke-dasharray="2.6 1.6"/>
<line x1="293.20" y1="230.80" x2="401.70" y2="202.90" stroke="#555" stroke-width="0.8"/>
<line x1="401.70" y1="202.90" x2="485.30" y2="239.30" stroke="#555" stroke-width="0.8"/>
<line x1="401.70" y1="282.30" x2="401.70" y2="202.90" stroke="#999" stroke-width="1.4"/>
<line x1="485.30" y1="318.70" x2="485.30" y2="239.30" stroke="#909090" stroke-width="1.4"/>
<line x1="293.20" y1="310.20" x2="293.20" y2="230.80" stroke="#555" stroke-width="0.8"/>
<polygon points="293.20,310.20 376.80,346.60 485.30,318.70 401.70,282.30" fill="#2e2eb0"/>
<defs><linearGradient id="gba312" gradientUnits="userSpaceOnUse" x1="0" y1="312" x2="0" y2="232.60"><stop offset="0.0000" stop-color="#000080"/><stop offset="0.1250" stop-color="#0000ff"/><stop offset="0.3750" stop-color="#00ffff"/><stop offset="0.6250" stop-color="#ffff00"/><stop offset="0.8750" stop-color="#ff0000"/><stop offset="1.0000" stop-color="#800000"/></linearGradient><linearGradient id="gba314" gradientUnits="userSpaceOnUse" x1="0" y1="314" x2="0" y2="234.60"><stop offset="0.0000" stop-color="#000080"/><stop offset="0.1250" stop-color="#0000ff"/><stop offset="0.3750" stop-color="#00ffff"/><stop offset="0.6250" stop-color="#ffff00"/><stop offset="0.8750" stop-color="#ff0000"/><stop offset="1.0000" stop-color="#800000"/></linearGradient><linearGradient id="gba316" gradientUnits="userSpaceOnUse" x1="0" y1="316" x2="0" y2="236.60"><stop offset="0.0000" stop-color="#000080"/><stop offset="0.1250" stop-color="#0000ff"/><stop offset="0.3750" stop-color="#00ffff"/><stop offset="0.6250" stop-color="#ffff00"/><stop offset="0.8750" stop-color="#ff0000"/><stop offset="1.0000" stop-color="#800000"/></linearGradient><linearGradient id="gba318" gradientUnits="userSpaceOnUse" x1="0" y1="318" x2="0" y2="238.60"><stop offset="0.0000" stop-color="#000080"/><stop offset="0.1250" stop-color="#0000ff"/><stop offset="0.3750" stop-color="#00ffff"/><stop offset="0.6250" stop-color="#ffff00"/><stop offset="0.8750" stop-color="#ff0000"/><stop offset="1.0000" stop-color="#800000"/></linearGradient></defs>
<g fill="#fff" stroke-width="0.5" stroke-linejoin="round"><g stroke="url(#gba312)"><path d="M357.1 313.0L355.8 312.5L354.2 312.9L355.4 284.7Z"/></g><g stroke="url(#gba314)"><path d="M360.0 313.2L358.7 312.6L357.1 313.0L358.3 304.6Z"/><path d="M362.8 313.3L361.6 312.7L360.0 313.2L361.2 271.5Z"/><path d="M365.7 313.4L364.5 312.9L362.8 313.3L364.1 264.2Z"/><path d="M355.4 284.7L354.2 312.9L352.6 313.3L353.8 304.9Z"/><path d="M368.6 313.5L367.3 313.0L365.7 313.4L367.0 235.5Z"/><path d="M358.3 304.6L357.1 313.0L355.4 284.7L356.7 305.1Z"/><path d="M371.5 313.7L370.2 313.1L368.6 313.5L369.9 259.5Z"/><path d="M361.2 271.5L360.0 313.2L358.3 304.6L359.6 285.3Z"/><path d="M374.4 313.8L373.1 313.2L371.5 313.7L372.7 294.4Z"/><path d="M364.1 264.2L362.8 313.3L361.2 271.5L362.5 285.5Z"/><path d="M377.2 313.9L376.0 313.4L374.4 313.8L375.6 269.7Z"/><path d="M353.8 304.9L352.6 313.3L350.9 313.7L352.2 314.3Z"/><path d="M367.0 235.5L365.7 313.4L364.1 264.2L365.3 267.2Z"/><path d="M380.1 314.0L378.9 313.5L377.2 313.9L378.5 260.9Z"/><path d="M356.7 305.1L355.4 284.7L353.8 304.9L355.1 305.5Z"/><path d="M369.9 259.5L368.6 313.5L367.0 235.5L368.2 272.3Z"/><path d="M383.0 314.2L381.8 313.6L380.1 314.0L381.4 274.9Z"/><path d="M359.6 285.3L358.3 304.6L356.7 305.1L358.0 312.6Z"/><path d="M372.7 294.4L371.5 313.7L369.9 259.5L371.1 285.8Z"/><path d="M385.9 314.3L384.6 313.8L383.0 314.2L384.3 241.3Z"/><path d="M362.5 285.5L361.2 271.5L359.6 285.3L360.8 305.7Z"/><path d="M375.6 269.7L374.4 313.8L372.7 294.4L374.0 286.0Z"/><path d="M388.8 314.4L387.5 313.9L385.9 314.3L387.1 280.1Z"/><path d="M365.3 267.2L364.1 264.2L362.5 285.5L363.7 312.8Z"/><path d="M378.5 260.9L377.2 313.9L375.6 269.7L376.9 286.1Z"/><path d="M355.1 305.5L353.8 304.9L352.2 314.3L353.4 314.8Z"/><path d="M391.7 314.6L390.4 314.0L388.8 314.4L390.0 266.8Z"/><path d="M368.2 272.3L367.0 235.5L365.3 267.2L366.6 312.9Z"/><path d="M381.4 274.9L380.1 314.0L378.5 260.9L379.8 267.9Z"/><path d="M358.0 312.6L356.7 305.1L355.1 305.5L356.3 315.0Z"/><path d="M394.5 314.7L393.3 314.1L391.7 314.6L392.9 275.4Z"/><path d="M371.1 285.8L369.9 259.5L368.2 272.3L369.5 315.0Z"/><path d="M384.3 241.3L383.0 314.2L381.4 274.9L382.6 277.4Z"/><path d="M360.8 305.7L359.6 285.3L358.0 312.6L359.2 315.1Z"/><path d="M397.4 314.8L396.2 314.3L394.5 314.7L395.8 240.8Z"/><path d="M374.0 286.0L372.7 294.4L371.1 285.8L372.4 315.2Z"/><path d="M387.1 280.1L385.9 314.3L384.3 241.3L385.5 286.5Z"/><path d="M363.7 312.8L362.5 285.5L360.8 305.7L362.1 315.2Z"/><path d="M400.3 314.9L399.0 314.4L397.4 314.8L398.7 277.6Z"/><path d="M376.9 286.1L375.6 269.7L374.0 286.0L375.2 313.3Z"/><path d="M390.0 266.8L388.8 314.4L387.1 280.1L388.4 300.5Z"/><path d="M366.6 312.9L365.3 267.2L363.7 312.8L365.0 315.3Z"/></g><g stroke="url(#gba316)"><path d="M403.2 315.1L401.9 314.5L400.3 314.9L401.5 263.4Z"/></g><g stroke="url(#gba314)"><path d="M379.8 267.9L378.5 260.9L376.9 286.1L378.1 315.4Z"/><path d="M356.3 315.0L355.1 305.5L353.4 314.8L354.7 315.4Z"/></g><g stroke="url(#gba316)"><path d="M392.9 275.4L391.7 314.6L390.0 266.8L391.3 277.8Z"/></g><g stroke="url(#gba314)"><path d="M369.5 315.0L368.2 272.3L366.6 312.9L367.9 315.5Z"/></g><g stroke="url(#gba316)"><path d="M406.1 315.2L404.8 314.6L403.2 315.1L404.4 280.9Z"/><path d="M382.6 277.4L381.4 274.9L379.8 267.9L381.0 313.6Z"/><path d="M359.2 315.1L358.0 312.6L356.3 315.0L357.6 315.5Z"/><path d="M395.8 240.8L394.5 314.7L392.9 275.4L394.2 286.9Z"/><path d="M372.4 315.2L371.1 285.8L369.5 315.0L370.7 315.6Z"/><path d="M408.9 315.3L407.7 314.8L406.1 315.2L407.3 262.1Z"/><path d="M385.5 286.5L384.3 241.3L382.6 277.4L383.9 315.7Z"/><path d="M362.1 315.2L360.8 305.7L359.2 315.1L360.5 315.6Z"/><path d="M398.7 277.6L397.4 314.8L395.8 240.8L397.0 278.1Z"/><path d="M375.2 313.3L374.0 286.0L372.4 315.2L373.6 315.7Z"/><path d="M411.8 315.4L410.6 314.9L408.9 315.3L410.2 236.5Z"/><path d="M388.4 300.5L387.1 280.1L385.5 286.5L386.8 315.8Z"/><path d="M365.0 315.3L363.7 312.8L362.1 315.2L363.3 315.8Z"/><path d="M401.5 263.4L400.3 314.9L398.7 277.6L399.9 307.0Z"/><path d="M378.1 315.4L376.9 286.1L375.2 313.3L376.5 315.8Z"/><path d="M414.7 315.6L413.4 315.0L411.8 315.4L413.1 266.4Z"/><path d="M391.3 277.8L390.0 266.8L388.4 300.5L389.7 307.0Z"/><path d="M367.9 315.5L366.6 312.9L365.0 315.3L366.2 315.9Z"/><path d="M404.4 280.9L403.2 315.1L401.5 263.4L402.8 281.3Z"/><path d="M381.0 313.6L379.8 267.9L378.1 315.4L379.4 316.0Z"/><path d="M417.6 315.7L416.3 315.2L414.7 315.6L416.0 273.9Z"/><path d="M394.2 286.9L392.9 275.4L391.3 277.8L392.5 307.1Z"/><path d="M407.3 262.1L406.1 315.2L404.4 280.9L405.7 287.4Z"/><path d="M383.9 315.7L382.6 277.4L381.0 313.6L382.3 316.1Z"/><path d="M420.5 315.8L419.2 315.3L417.6 315.7L418.8 307.3Z"/><path d="M397.0 278.1L395.8 240.8L394.2 286.9L395.4 316.2Z"/><path d="M410.2 236.5L408.9 315.3L407.3 262.1L408.6 278.6Z"/><path d="M386.8 315.8L385.5 286.5L383.9 315.7L385.1 316.2Z"/><path d="M423.3 316.0L422.1 315.4L420.5 315.8L421.7 287.6Z"/><path d="M399.9 307.0L398.7 277.6L397.0 278.1L398.3 314.3Z"/><path d="M376.5 315.8L375.2 313.3L373.6 315.7L374.9 316.3Z"/><path d="M413.1 266.4L411.8 315.4L410.2 236.5L411.4 264.8Z"/><path d="M389.7 307.0L388.4 300.5L386.8 315.8L388.0 316.4Z"/><path d="M402.8 281.3L401.5 263.4L399.9 307.0L401.2 314.5Z"/><path d="M416.0 273.9L414.7 315.6L413.1 266.4L414.3 287.8Z"/><path d="M392.5 307.1L391.3 277.8L389.7 307.0L390.9 316.5Z"/><path d="M405.7 287.4L404.4 280.9L402.8 281.3L404.1 316.6Z"/><path d="M382.3 316.1L381.0 313.6L379.4 316.0L380.6 316.5Z"/><path d="M418.8 307.3L417.6 315.7L416.0 273.9L417.2 294.3Z"/><path d="M395.4 316.2L394.2 286.9L392.5 307.1L393.8 316.6Z"/><path d="M408.6 278.6L407.3 262.1L405.7 287.4L406.9 316.7Z"/><path d="M421.7 287.6L420.5 315.8L418.8 307.3L420.1 307.9Z"/><path d="M398.3 314.3L397.0 278.1L395.4 316.2L396.7 316.7Z"/><path d="M411.4 264.8L410.2 236.5L408.6 278.6L409.8 314.8Z"/><path d="M424.6 316.5L423.3 316.0L421.7 287.6L423.0 308.0Z"/><path d="M401.2 314.5L399.9 307.0L398.3 314.3L399.5 316.9Z"/><path d="M414.3 287.8L413.1 266.4L411.4 264.8L412.7 315.0Z"/><path d="M390.9 316.5L389.7 307.0L388.0 316.4L389.3 316.9Z"/><path d="M404.1 316.6L402.8 281.3L401.2 314.5L402.4 317.0Z"/><path d="M417.2 294.3L416.0 273.9L414.3 287.8L415.6 308.2Z"/><path d="M393.8 316.6L392.5 307.1L390.9 316.5L392.2 317.0Z"/><path d="M406.9 316.7L405.7 287.4L404.1 316.6L405.3 317.1Z"/><path d="M420.1 307.9L418.8 307.3L417.2 294.3L418.5 315.2Z"/><path d="M409.8 314.8L408.6 278.6L406.9 316.7L408.2 317.3Z"/><path d="M423.0 308.0L421.7 287.6L420.1 307.9L421.3 315.4Z"/><path d="M399.5 316.9L398.3 314.3L396.7 316.7L397.9 317.3Z"/><path d="M412.7 315.0L411.4 264.8L409.8 314.8L411.1 317.4Z"/><path d="M425.9 317.1L424.6 316.5L423.0 308.0L424.2 317.5Z"/><path d="M402.4 317.0L401.2 314.5L399.5 316.9L400.8 317.4Z"/></g><g stroke="url(#gba318)"><path d="M415.6 308.2L414.3 287.8L412.7 315.0L414.0 317.5Z"/><path d="M418.5 315.2L417.2 294.3L415.6 308.2L416.8 317.6Z"/><path d="M421.3 315.4L420.1 307.9L418.5 315.2L419.7 317.8Z"/><path d="M411.1 317.4L409.8 314.8L408.2 317.3L409.4 317.8Z"/><path d="M424.2 317.5L423.0 308.0L421.3 315.4L422.6 317.9Z"/><path d="M414.0 317.5L412.7 315.0L411.1 317.4L412.3 317.9Z"/><path d="M416.8 317.6L415.6 308.2L414.0 317.5L415.2 318.1Z"/><path d="M419.7 317.8L418.5 315.2L416.8 317.6L418.1 318.2Z"/><path d="M422.6 317.9L421.3 315.4L419.7 317.8L421.0 318.3Z"/></g></g>
<defs><linearGradient id="gbb318" gradientUnits="userSpaceOnUse" x1="0" y1="318" x2="0" y2="238.60"><stop offset="0.0000" stop-color="#000080"/><stop offset="0.1250" stop-color="#0000ff"/><stop offset="0.3750" stop-color="#00ffff"/><stop offset="0.6250" stop-color="#ffff00"/><stop offset="0.8750" stop-color="#ff0000"/><stop offset="1.0000" stop-color="#800000"/></linearGradient><linearGradient id="gbb320" gradientUnits="userSpaceOnUse" x1="0" y1="320" x2="0" y2="240.60"><stop offset="0.0000" stop-color="#000080"/><stop offset="0.1250" stop-color="#0000ff"/><stop offset="0.3750" stop-color="#00ffff"/><stop offset="0.6250" stop-color="#ffff00"/><stop offset="0.8750" stop-color="#ff0000"/><stop offset="1.0000" stop-color="#800000"/></linearGradient><linearGradient id="gbb322" gradientUnits="userSpaceOnUse" x1="0" y1="322" x2="0" y2="242.60"><stop offset="0.0000" stop-color="#000080"/><stop offset="0.1250" stop-color="#0000ff"/><stop offset="0.3750" stop-color="#00ffff"/><stop offset="0.6250" stop-color="#ffff00"/><stop offset="0.8750" stop-color="#ff0000"/><stop offset="1.0000" stop-color="#800000"/></linearGradient><linearGradient id="gbb324" gradientUnits="userSpaceOnUse" x1="0" y1="324" x2="0" y2="244.60"><stop offset="0.0000" stop-color="#000080"/><stop offset="0.1250" stop-color="#0000ff"/><stop offset="0.3750" stop-color="#00ffff"/><stop offset="0.6250" stop-color="#ffff00"/><stop offset="0.8750" stop-color="#ff0000"/><stop offset="1.0000" stop-color="#800000"/></linearGradient><linearGradient id="gbb326" gradientUnits="userSpaceOnUse" x1="0" y1="326" x2="0" y2="246.60"><stop offset="0.0000" stop-color="#000080"/><stop offset="0.1250" stop-color="#0000ff"/><stop offset="0.3750" stop-color="#00ffff"/><stop offset="0.6250" stop-color="#ffff00"/><stop offset="0.8750" stop-color="#ff0000"/><stop offset="1.0000" stop-color="#800000"/></linearGradient><linearGradient id="gbb328" gradientUnits="userSpaceOnUse" x1="0" y1="328" x2="0" y2="248.60"><stop offset="0.0000" stop-color="#000080"/><stop offset="0.1250" stop-color="#0000ff"/><stop offset="0.3750" stop-color="#00ffff"/><stop offset="0.6250" stop-color="#ffff00"/><stop offset="0.8750" stop-color="#ff0000"/><stop offset="1.0000" stop-color="#800000"/></linearGradient><linearGradient id="gbb330" gradientUnits="userSpaceOnUse" x1="0" y1="330" x2="0" y2="250.60"><stop offset="0.0000" stop-color="#000080"/><stop offset="0.1250" stop-color="#0000ff"/><stop offset="0.3750" stop-color="#00ffff"/><stop offset="0.6250" stop-color="#ffff00"/><stop offset="0.8750" stop-color="#ff0000"/><stop offset="1.0000" stop-color="#800000"/></linearGradient></defs>
<g fill="#fff" stroke-width="0.35" stroke-linejoin="round"><g stroke="url(#gbb318)"><path d="M387.3 318.3L386.0 317.7L384.4 318.2L385.6 307.8Z"/><path d="M390.2 318.4L388.9 317.9L387.3 318.3L388.5 307.9Z"/><path d="M382.8 318.6L381.5 318.0L379.9 318.5L381.1 308.1Z"/><path d="M385.6 307.8L384.4 318.2L382.8 318.6L384.0 308.2Z"/><path d="M388.5 307.9L387.3 318.3L385.6 307.8L386.9 319.3Z"/><path d="M391.4 319.0L390.2 318.4L388.5 307.9L389.8 308.5Z"/><path d="M381.1 308.1L379.9 318.5L378.3 318.9L379.5 319.4Z"/></g><g stroke="url(#gbb320)"><path d="M394.3 319.1L393.0 318.5L391.4 319.0L392.7 308.6Z"/><path d="M384.0 308.2L382.8 318.6L381.1 308.1L382.4 319.5Z"/><path d="M386.9 319.3L385.6 307.8L384.0 308.2L385.3 319.7Z"/><path d="M389.8 308.5L388.5 307.9L386.9 319.3L388.2 319.8Z"/><path d="M392.7 308.6L391.4 319.0L389.8 308.5L391.0 319.9Z"/><path d="M382.4 319.5L381.1 308.1L379.5 319.4L380.8 320.0Z"/><path d="M395.5 319.6L394.3 319.1L392.7 308.6L393.9 320.1Z"/><path d="M385.3 319.7L384.0 308.2L382.4 319.5L383.6 320.1Z"/><path d="M391.0 319.9L389.8 308.5L388.2 319.8L389.4 320.3Z"/><path d="M393.9 320.1L392.7 308.6L391.0 319.9L392.3 320.5Z"/></g><g stroke="url(#gbb322)"><path d="M382.9 322.0L381.6 321.5L380.0 321.9L381.3 311.5Z"/><path d="M385.8 322.1L384.5 321.6L382.9 322.0L384.2 311.6Z"/><path d="M388.7 322.3L387.4 321.7L385.8 322.1L387.0 305.3Z"/><path d="M391.5 322.4L390.3 321.9L388.7 322.3L389.9 311.9Z"/><path d="M381.3 311.5L380.0 321.9L378.4 322.3L379.6 322.9Z"/><path d="M384.2 311.6L382.9 322.0L381.3 311.5L382.5 312.1Z"/><path d="M387.0 305.3L385.8 322.1L384.2 311.6L385.4 294.3Z"/><path d="M389.9 311.9L388.7 322.3L387.0 305.3L388.3 312.3Z"/><path d="M392.8 322.9L391.5 322.4L389.9 311.9L391.2 323.4Z"/><path d="M382.5 312.1L381.3 311.5L379.6 322.9L380.9 323.4Z"/></g><g stroke="url(#gbb324)"><path d="M385.4 294.3L384.2 311.6L382.5 312.1L383.8 323.5Z"/><path d="M388.3 312.3L387.0 305.3L385.4 294.3L386.7 323.7Z"/><path d="M391.2 323.4L389.9 311.9L388.3 312.3L389.5 323.8Z"/><path d="M383.8 323.5L382.5 312.1L380.9 323.4L382.2 313.0Z"/><path d="M386.7 323.7L385.4 294.3L383.8 323.5L385.0 324.1Z"/><path d="M389.5 323.8L388.3 312.3L386.7 323.7L387.9 313.3Z"/><path d="M382.2 313.0L380.9 323.4L379.3 323.8L380.5 324.4Z"/><path d="M385.0 324.1L383.8 323.5L382.2 313.0L383.4 324.5Z"/><path d="M387.9 313.3L386.7 323.7L385.0 324.1L386.3 324.6Z"/><path d="M390.8 324.3L389.5 323.8L387.9 313.3L389.2 324.7Z"/><path d="M383.4 324.5L382.2 313.0L380.5 324.4L381.8 324.9Z"/><path d="M389.2 324.7L387.9 313.3L386.3 324.6L387.5 325.2Z"/><path d="M384.7 325.0L383.4 324.5L381.8 324.9L383.0 314.5Z"/></g><g stroke="url(#gbb326)"><path d="M387.5 325.2L386.3 324.6L384.7 325.0L385.9 314.7Z"/><path d="M383.0 314.5L381.8 324.9L380.2 325.3L381.4 325.9Z"/><path d="M385.9 314.7L384.7 325.0L383.0 314.5L384.3 308.6Z"/><path d="M388.8 325.7L387.5 325.2L385.9 314.7L387.2 315.2Z"/><path d="M384.3 308.6L383.0 314.5L381.4 325.9L382.7 315.5Z"/><path d="M387.2 315.2L385.9 314.7L384.3 308.6L385.5 315.6Z"/><path d="M390.1 326.3L388.8 325.7L387.2 315.2L388.4 326.7Z"/><path d="M382.7 315.5L381.4 325.9L379.8 326.3L381.0 326.8Z"/><path d="M385.5 315.6L384.3 308.6L382.7 315.5L383.9 309.6Z"/><path d="M388.4 326.7L387.2 315.2L385.5 315.6L386.8 327.1Z"/><path d="M383.9 309.6L382.7 315.5L381.0 326.8L382.3 316.5Z"/></g><g stroke="url(#gbb328)"><path d="M386.8 327.1L385.5 315.6L383.9 309.6L385.2 316.6Z"/><path d="M382.3 316.5L381.0 326.8L379.4 327.3L380.7 327.8Z"/><path d="M385.2 316.6L383.9 309.6L382.3 316.5L383.5 327.9Z"/><path d="M388.0 327.6L386.8 327.1L385.2 316.6L386.4 328.1Z"/><path d="M383.5 327.9L382.3 316.5L380.7 327.8L381.9 328.4Z"/><path d="M386.4 328.1L385.2 316.6L383.5 327.9L384.8 328.5Z"/><path d="M384.8 328.5L383.5 327.9L381.9 328.4L383.2 318.0Z"/><path d="M383.2 318.0L381.9 328.4L380.3 328.8L381.5 329.3Z"/><path d="M386.0 329.0L384.8 328.5L383.2 318.0L384.4 329.4Z"/></g><g stroke="url(#gbb330)"><path d="M384.4 329.4L383.2 318.0L381.5 329.3L382.8 329.9Z"/></g></g>
<line x1="290.69" y1="309.11" x2="293.20" y2="310.20" stroke="#555" stroke-width="0.7"/>
<text x="288.60" y="311.70" text-anchor="end" class="tk3">0</text>
<line x1="290.69" y1="289.26" x2="293.20" y2="290.35" stroke="#555" stroke-width="0.7"/>
<text x="288.60" y="291.85" text-anchor="end" class="tk3">40</text>
<line x1="290.69" y1="269.41" x2="293.20" y2="270.50" stroke="#555" stroke-width="0.7"/>
<text x="288.60" y="272.00" text-anchor="end" class="tk3">80</text>
<line x1="290.69" y1="249.56" x2="293.20" y2="250.65" stroke="#555" stroke-width="0.7"/>
<text x="288.60" y="252.15" text-anchor="end" class="tk3">120</text>
<line x1="290.69" y1="229.71" x2="293.20" y2="230.80" stroke="#555" stroke-width="0.7"/>
<text x="288.60" y="232.30" text-anchor="end" class="tk3">160</text>
<text x="296.06" y="324.34" text-anchor="end" class="tk3">400</text>
<line x1="301.56" y1="313.84" x2="299.39" y2="314.40" stroke="#666" stroke-width="0.6"/>
<text x="312.78" y="331.62" text-anchor="end" class="tk3">200</text>
<line x1="318.28" y1="321.12" x2="316.11" y2="321.68" stroke="#666" stroke-width="0.6"/>
<text x="329.50" y="338.90" text-anchor="end" class="tk3">0</text>
<line x1="335.00" y1="328.40" x2="332.83" y2="328.96" stroke="#666" stroke-width="0.6"/>
<text x="346.22" y="346.18" text-anchor="end" class="tk3">-200</text>
<line x1="351.72" y1="335.68" x2="349.55" y2="336.24" stroke="#666" stroke-width="0.6"/>
<text x="362.94" y="353.46" text-anchor="end" class="tk3">-400</text>
<line x1="368.44" y1="342.96" x2="366.27" y2="343.52" stroke="#666" stroke-width="0.6"/>
<text x="392.65" y="354.91" class="tk3">400</text>
<line x1="387.65" y1="343.81" x2="389.32" y2="344.54" stroke="#666" stroke-width="0.6"/>
<text x="414.35" y="349.33" class="tk3">200</text>
<line x1="409.35" y1="338.23" x2="411.02" y2="338.96" stroke="#666" stroke-width="0.6"/>
<text x="436.05" y="343.75" class="tk3">0</text>
<line x1="431.05" y1="332.65" x2="432.72" y2="333.38" stroke="#666" stroke-width="0.6"/>
<text x="457.75" y="338.17" class="tk3">-200</text>
<line x1="452.75" y1="327.07" x2="454.42" y2="327.80" stroke="#666" stroke-width="0.6"/>
<text x="479.45" y="332.59" class="tk3">-400</text>
<line x1="474.45" y1="321.49" x2="476.12" y2="322.22" stroke="#666" stroke-width="0.6"/>
<text x="284" y="359.60" class="lb">Min [MPa]</text>
<text x="432.7" y="361.90" class="lb">Max [MPa]</text>
<text transform="translate(271.2 270.90) rotate(-90)" text-anchor="middle" class="lb">Cycle [Times]</text>
<text x="216.1" y="187.2" class="cap" textLength="87.5" lengthAdjust="spacingAndGlyphs"><tspan font-weight="bold">(a)</tspan> RFM (20 m/s)</text>
<text x="216.1" y="383.6" class="cap" textLength="87.5" lengthAdjust="spacingAndGlyphs"><tspan font-weight="bold">(b)</tspan> RFM (40 m/s)</text>
</svg>
</body></html>
